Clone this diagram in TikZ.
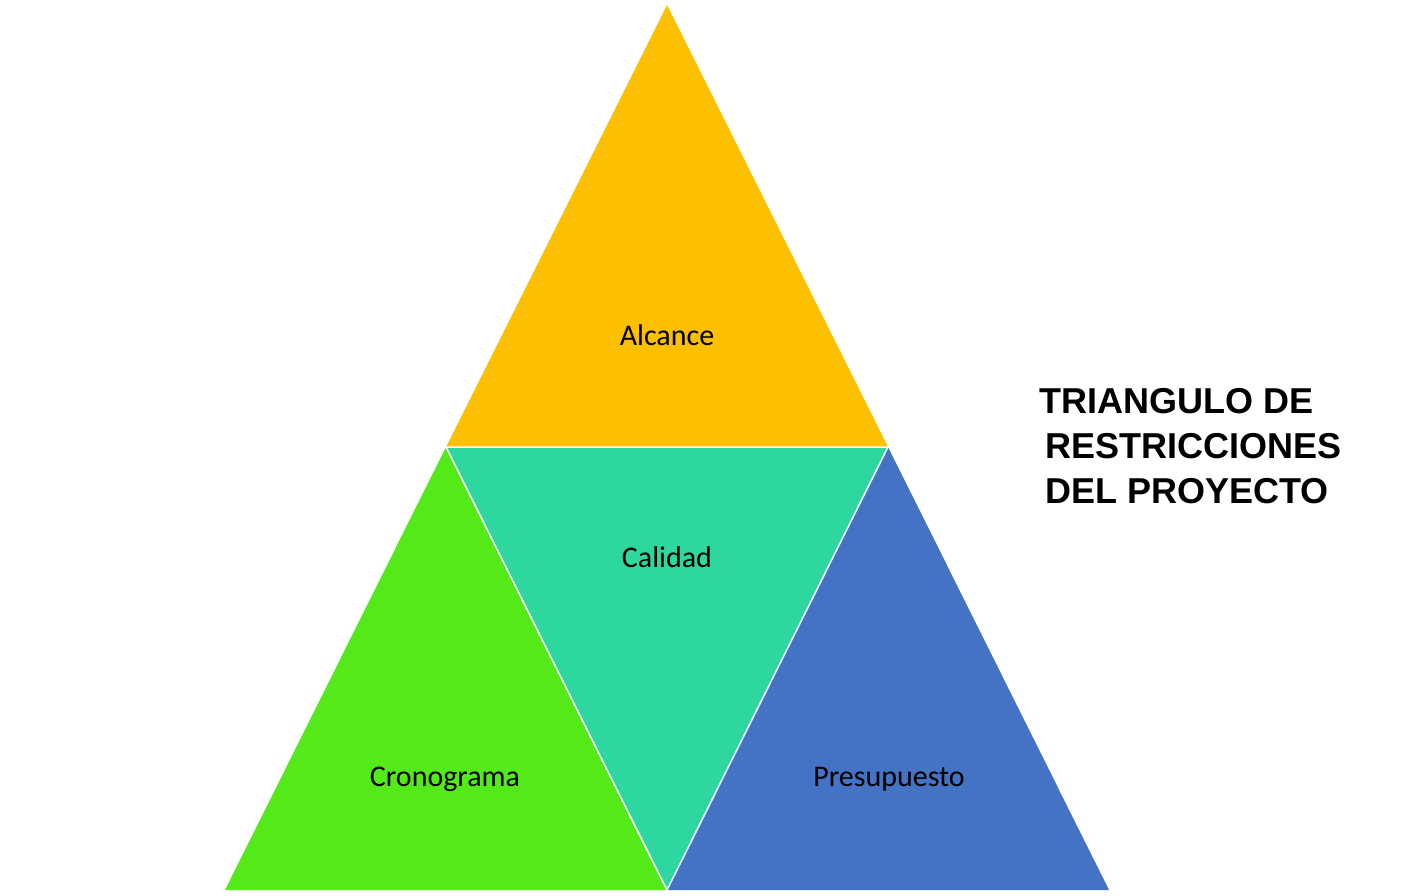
\documentclass[tikz,border=0pt]{standalone}
\usepackage{fontspec}
\setmainfont{Carlito}
\newfontfamily\titlefont{Liberation Sans}
\usepackage{tikz}
\usetikzlibrary{positioning}
\definecolor{alcance}{RGB}{252,192,0}
\definecolor{calidad}{RGB}{46,214,160}
\definecolor{crono}{RGB}{84,234,26}
\definecolor{presu}{RGB}{68,114,196}
\begin{document}
\begin{tikzpicture}[x=1pt,y=-1pt,
% Triangle and label styles
    piece/.style={draw=white,line width=1.5pt,line join=miter},
    lbl/.style={font=\fontsize{30}{36}\selectfont,text=black},
    title/.style={font=\titlefont\bfseries\fontsize{36}{45}\selectfont,align=left,anchor=west}
    ]
    \useasboundingbox (0,0) rectangle (1423,895);
%% Corner points
    \coordinate (top) at (667,5);
    \coordinate (ml) at (446,447);
    \coordinate (mr) at (888,447);
    \coordinate (bl) at (225,890);
    \coordinate (bm) at (667,890);
    \coordinate (br) at (1109,890);
%% Draw triangles
    \fill[alcance] (top) -- (mr) -- (ml) -- cycle;
    \fill[calidad] (ml) -- (mr) -- (bm) -- cycle;
    \fill[crono] (ml) -- (bm) -- (bl) -- cycle;
    \fill[presu] (mr) -- (br) -- (bm) -- cycle;
    \draw[piece] (ml) -- (mr) -- (bm) -- cycle;
%% Labels
    \node (a) [lbl] at (667,335) {Alcance};
    \node (c) [lbl] at (667,557) {Calidad};
    \node (cr) [lbl] at (445,779) {Cronograma};
    \node (p) [lbl] at (889,779) {Presupuesto};
    \node (t) [title] at (1036,446) {TRIANGULO DE\\ \,RESTRICCIONES\\ \,DEL PROYECTO};
\end{tikzpicture}
\end{document}
